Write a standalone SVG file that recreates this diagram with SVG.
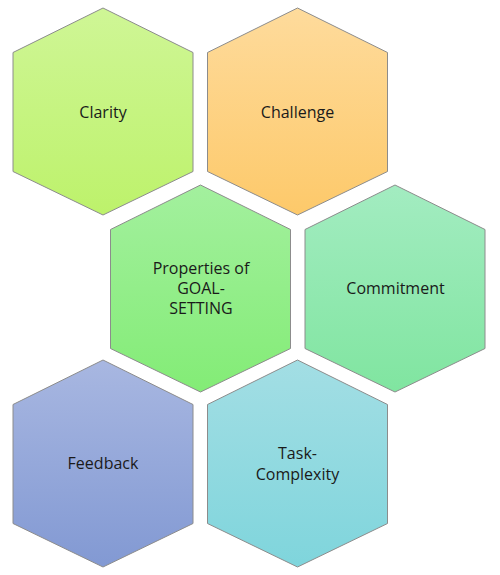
<svg xmlns="http://www.w3.org/2000/svg" width="500" height="575" viewBox="0 0 500 575">
<defs>
<linearGradient id="gClarity" x1="0" y1="0" x2="0" y2="1"><stop offset="0" stop-color="#cff696"/><stop offset="1" stop-color="#bdf26b"/></linearGradient>
<linearGradient id="gChallenge" x1="0" y1="0" x2="0" y2="1"><stop offset="0" stop-color="#fedb9c"/><stop offset="1" stop-color="#fdc96a"/></linearGradient>
<linearGradient id="gProps" x1="0" y1="0" x2="0" y2="1"><stop offset="0" stop-color="#a3f09e"/><stop offset="1" stop-color="#83ec76"/></linearGradient>
<linearGradient id="gCommit" x1="0" y1="0" x2="0" y2="1"><stop offset="0" stop-color="#a3ecc1"/><stop offset="1" stop-color="#80e5a0"/></linearGradient>
<linearGradient id="gFeedback" x1="0" y1="0" x2="0" y2="1"><stop offset="0" stop-color="#a8b7e1"/><stop offset="1" stop-color="#8299d3"/></linearGradient>
<linearGradient id="gTask" x1="0" y1="0" x2="0" y2="1"><stop offset="0" stop-color="#a3dee4"/><stop offset="1" stop-color="#7fd5dc"/></linearGradient>
<polygon id="hex" points="0,-103.5 90,-59 90,60 0,103.5 -90,60 -90,-59"/>
</defs>
<style>
.hex{stroke:#8c8c8c;stroke-width:1}
.lbl{font-family:"Open Sans","Liberation Sans",sans-serif;font-size:16px;fill:#1a1a1a;text-anchor:middle}
</style>
<rect width="500" height="575" fill="#ffffff"/>
<g id="clarity">
<use href="#hex" x="103" y="111.5" class="hex" fill="url(#gClarity)"/>
<text class="lbl" x="103" y="118">Clarity</text>
</g>
<g id="challenge">
<use href="#hex" x="297.5" y="111.5" class="hex" fill="url(#gChallenge)"/>
<text class="lbl" x="297.5" y="118">Challenge</text>
</g>
<g id="properties">
<use href="#hex" x="200.5" y="288.5" class="hex" fill="url(#gProps)"/>
<text class="lbl" x="201" y="274">Properties of</text>
<text class="lbl" x="201" y="294">GOAL-</text>
<text class="lbl" x="201" y="314">SETTING</text>
</g>
<g id="commitment">
<use href="#hex" x="395" y="288.5" class="hex" fill="url(#gCommit)"/>
<text class="lbl" x="395.5" y="294">Commitment</text>
</g>
<g id="feedback">
<use href="#hex" x="103" y="463.5" class="hex" fill="url(#gFeedback)"/>
<text class="lbl" x="103" y="469">Feedback</text>
</g>
<g id="task">
<use href="#hex" x="297.5" y="463.5" class="hex" fill="url(#gTask)"/>
<text class="lbl" x="297.5" y="459">Task-</text>
<text class="lbl" x="297.5" y="480">Complexity</text>
</g>
<g id="connectors"/>
</svg>
